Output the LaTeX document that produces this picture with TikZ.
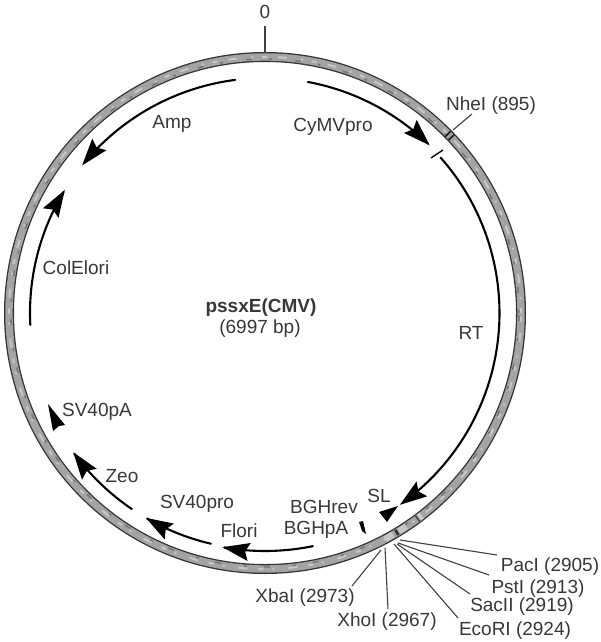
\documentclass[tikz,border=0pt]{standalone}
\usepackage{fontspec}
\setmainfont{Liberation Sans}
\usetikzlibrary{arrows.meta}
\definecolor{ink}{gray}{0.22}
\tikzset{
  lab/.style={text=ink,font=\fontsize{19}{21}\selectfont,inner sep=0pt},
  feat/.style={line width=2.1pt,black,line cap=round,-{Stealth[length=27pt,width=18pt,inset=4pt]}},
  site/.style={line width=1.1pt,black!75},
  blob/.style={fill=black,draw=none}
}
\newcommand{\featarc}[4]{\draw[#1] plot[domain=#3:#4,samples=60] ({265+#2*cos(\x)},{313-#2*sin(\x)});}
\begin{document}
\begin{tikzpicture}[x=1pt,y=-1pt]
\useasboundingbox (0,0) rectangle (600,642);
\fill[white] (0,0) rectangle (600,642);
% ring
\coordinate (c) at (265,313);
\draw[black!80,line width=10pt] (c) circle[radius=256pt];
\draw[black!36,line width=7.4pt] (c) circle[radius=256pt];
\draw[black!22,line width=2pt,dash pattern=on 5pt off 9pt on 2pt off 14pt on 9pt off 11pt] (c) circle[radius=256pt];
\draw[black!55,line width=1.4pt,dash pattern=on 3pt off 17pt on 6pt off 23pt] (c) circle[radius=254pt];
\draw[black!22,line width=6pt] plot[domain=-62:-60,samples=3] ({265+256*cos(\x)},{313-256*sin(\x)});
\draw[black!22,line width=6pt] plot[domain=-58.5:-56.5,samples=3] ({265+256*cos(\x)},{313-256*sin(\x)});
\draw[black!80,line width=6pt] plot[domain=-59.3:-58.7,samples=3] ({265+256*cos(\x)},{313-256*sin(\x)});
\draw[black!70,line width=7pt] plot[domain=-53.6:-53.2,samples=3] ({265+256*cos(\x)},{313-256*sin(\x)});
\draw[black!20,line width=7pt] plot[domain=-53.1:-52.3,samples=3] ({265+256*cos(\x)},{313-256*sin(\x)});
\draw[black!85,line width=8pt] plot[domain=43.1:43.5,samples=3] ({265+256*cos(\x)},{313-256*sin(\x)});
\draw[black!85,line width=8pt] plot[domain=44.2:44.6,samples=3] ({265+256*cos(\x)},{313-256*sin(\x)});
% zero tick
\node[lab] (zero) at (265,12) {0};
\coordinate (ztop) at (265,26);
\coordinate (zbot) at (265,53);
\draw[line width=1.3pt,black!75] (ztop) -- (zbot);
% feature arcs
\featarc{feat}{235}{97.3}{141.1}
\featarc{feat}{235}{182.9}{148.4}
\featarc{feat}{235}{79.5}{45.5}
\featarc{feat}{234.5}{41.5}{-54.9}
\coordinate (ta) at (431,158);
\coordinate (tb) at (443,150);
\draw[line width=1.3pt,black] (ta) -- (tb);
\featarc{feat}{238}{-78.4}{-100.3}
\featarc{feat}{237}{-103.2}{-120.2}
\featarc{feat}{237}{-124.2}{-144}
% small solid marks
\fill[blob] (387,522) -- (379,512) -- (398,506) -- cycle;
\fill[blob] (359,522) -- (363,521) -- (366,534) -- (362,531) -- cycle;
\fill[blob] (48,404) -- (65,425) -- (59,426) -- (53,431) -- cycle;
% site lines
\coordinate (pacA) at (400,540); \coordinate (pacB) at (497,555);
\coordinate (pstA) at (398,543); \coordinate (pstB) at (489,575);
\coordinate (sacA) at (397,544); \coordinate (sacB) at (470,594);
\coordinate (ecoA) at (394,544); \coordinate (ecoB) at (458,618);
\coordinate (xhoA) at (385,548); \coordinate (xhoB) at (388,609);
\coordinate (xbaA) at (381,550); \coordinate (xbaB) at (352,586);
\coordinate (nheA) at (453,130); \coordinate (nheB) at (472,114);
\foreach \p in {pac,pst,sac,eco,xho,xba,nhe}{\draw[site] (\p A) -- (\p B);}
% labels
\node[lab] (nhe) at (491,106) {NheI (895)};
\node[lab] (amp) at (172,124) {Amp};
\node[lab] (cymv) at (333,127) {CyMVpro};
\node[lab] (col) at (76,268) {ColElori};
\node[lab,font=\fontsize{19}{21}\selectfont\bfseries] (name) at (261,308) {pssxE(CMV)};
\node[lab] (size) at (260,329) {(6997 bp)};
\node[lab] (rt) at (471,333) {RT};
\node[lab] (sl) at (379,496) {SL};
\node[lab] (bghrev) at (324,507) {BGHrev};
\node[lab] (bghpa) at (316,530) {BGHpA};
\node[lab] (flori) at (239,531) {Flori};
\node[lab] (svpro) at (197,504) {SV40pro};
\node[lab] (zeo) at (122,476) {Zeo};
\node[lab] (svpa) at (97,412) {SV40pA};
\node[lab] (pac) at (550,567) {PacI (2905)};
\node[lab] (pst) at (538,589) {PstI (2913)};
\node[lab] (sac) at (522,607) {SacII (2919)};
\node[lab] (eco) at (515,631) {EcoRI (2924)};
\node[lab] (xho) at (387,622) {XhoI (2967)};
\node[lab] (xba) at (305,598) {XbaI (2973)};
\end{tikzpicture}
\end{document}
